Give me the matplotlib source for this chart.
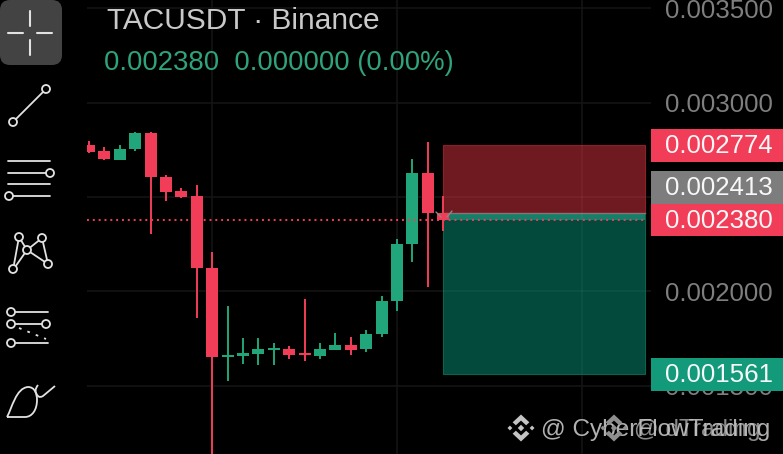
import matplotlib
matplotlib.use("Agg")
import matplotlib.pyplot as plt
from matplotlib.patches import Rectangle, FancyBboxPatch, Polygon, Circle, PathPatch
from matplotlib.path import Path

W, H = 783, 454
BG = "#000000"
RED = "#f23d58"
GREEN = "#20a67a"

# Candle data, in millionths of a USDT
opens  = [2775, 2742, 2698, 2753, 2841, 2608, 2530, 2505, 2126, 1653, 1658, 1670, 1690,
          1697, 1674, 1659, 1691, 1718, 1695, 1774, 1948, 2249, 2627, 2417]
closes = [2740, 2700, 2754, 2841, 2604, 2528, 2500, 2124, 1651, 1663, 1674, 1695, 1702,
          1663, 1663, 1697, 1718, 1691, 1776, 1949, 2251, 2627, 2417, 2378]
highs  = [2798, 2763, 2775, 2843, 2843, 2617, 2549, 2564, 2210, 1923, 1755, 1752, 1728,
          1711, 1960, 1725, 1778, 1757, 1796, 1974, 2279, 2700, 2790, 2504]
lows   = [2731, 2694, 2694, 2742, 2304, 2479, 2493, 1859, 1120, 1524, 1615, 1612, 1612,
          1642, 1631, 1640, 1690, 1662, 1677, 1760, 1896, 2156, 2025, 2318]
SCALE = 1e-6

last_price = 0.002380
stop_price = 0.002774
entry_price = 0.002413
target_price = 0.001561
position_start = 23
position_end = 36.1
grid_prices = [0.0015, 0.0020, 0.0025, 0.0030, 0.0035]
grid_times = [8, 20, 32]
title = "TACUSDT · Binance"
ohlc_line = "0.002380  0.000000 (0.00%)"
label_font = ["Liberation Sans", "DejaVu Sans"]

fig = plt.figure(figsize=(W / 100, H / 100), dpi=100, facecolor=BG)

# Main price chart
L, R = 87, 651
ax = fig.add_axes([L / W, 0, (R - L) / W, 1], facecolor=BG)
STEP = 15.4
ax.set_xlim((L - 89) / STEP, (R - 89) / STEP)
ax.set_ylim(0.0025 - 257 * 5.2966e-6, 0.0025 + 197 * 5.2966e-6)
for s in ax.spines.values():
    s.set_visible(False)
ax.set_yticks(grid_prices)
ax.set_yticklabels([f"{p:.6f}" for p in grid_prices], family=label_font, fontsize=18.6, color="#7f7f7f")
ax.set_xticks(grid_times)
ax.tick_params(axis="both", length=0, pad=10)
ax.tick_params(axis="x", labelbottom=False)
ax.yaxis.tick_right()
ax.grid(True, color="#151515", lw=1.1)
ax.set_axisbelow(True)

# Position tool
ax.add_patch(Rectangle((position_start, entry_price), position_end - position_start, stop_price - entry_price,
                       fc="#6f1a20", ec="#8a2029", lw=0.8, zorder=2))
ax.add_patch(Rectangle((position_start, target_price), position_end - position_start, entry_price - target_price,
                       fc="#03493c", ec="#0a6350", lw=0.8, zorder=2))
ax.add_patch(Rectangle((position_start, last_price), position_end - position_start, entry_price - last_price,
                       fc="#15806a", ec="none", zorder=2.1))
ax.plot([position_start, position_end], [entry_price, entry_price], color="#8f6f72", lw=1.0, zorder=2.2)
# The grid shows faintly through the position tool
ax.vlines([t for t in grid_times if t > position_start], target_price, stop_price, color="white", alpha=0.05, lw=1.1, zorder=2.3)
ax.hlines([p for p in grid_prices if target_price < p < stop_price], position_start, position_end, color="white", alpha=0.05, lw=1.1, zorder=2.3)

# Candles
for i, (o, c, h, l) in enumerate(zip(opens, closes, highs, lows)):
    col = GREEN if c >= o else RED
    ax.vlines(i, l * SCALE, h * SCALE, color=col, lw=1.4, zorder=3)
    ax.bar(i, abs(c - o) * SCALE, bottom=min(o, c) * SCALE, width=0.78, color=col, lw=0, zorder=3.1)

ax.plot([ax.get_xlim()[0], position_end], [last_price, last_price], color=RED, lw=1.4, ls=(0, (1, 2)), zorder=4)

# Overlay in pixel coordinates: toolbar, header, price labels, watermark
ov = fig.add_axes([0, 0, 1, 1], facecolor="none", zorder=5)
ov.set_xlim(0, W)
ov.set_ylim(H, 0)
ov.axis("off")

ICON = "#e2e2e2"
LW = 1.3

def line(pts, **kw):
    xs, ys = zip(*pts)
    ov.plot(xs, ys, color=kw.get("color", ICON), lw=kw.get("lw", LW), ls=kw.get("ls", "-"), solid_capstyle="round")

def ring(x, y, r=4):
    ov.add_patch(Circle((x, y), r, fc=BG, ec=ICON, lw=LW, zorder=6))

ov.add_patch(FancyBboxPatch((0, 0), 62, 65, boxstyle="round,pad=0,rounding_size=10", fc="#434343", ec="none"))
line([(30, 11), (30, 26)], lw=1.5)
line([(30, 40), (30, 55)], lw=1.5)
line([(8, 33), (23, 33)], lw=1.5)
line([(37, 33), (52, 33)], lw=1.5)

line([(13, 122), (46, 89)])
ring(46, 89); ring(13, 122)

line([(8, 161), (50, 161)])
line([(8, 173), (50, 173)]); ring(50, 173)
line([(8, 184), (50, 184)])
line([(9, 196), (50, 196)]); ring(9, 196)

for a, b in [((13, 270), (19, 237)), ((19, 237), (27, 250)), ((13, 270), (27, 250)),
             ((27, 250), (48, 264)), ((27, 250), (42, 238)), ((42, 238), (48, 264))]:
    line([a, b])
for p in [(19, 237), (42, 238), (27, 250), (48, 264), (13, 269)]:
    ring(*p)

line([(11, 312), (48, 312)]); ring(11, 312)
line([(11, 324), (46, 324)]); ring(11, 324); ring(46, 324)
line([(11, 343), (48, 343)]); ring(11, 343)
line([(19, 328), (46, 339)], ls=(0, (1.5, 3.5)))

# Brush icon
C4 = Path.CURVE4
brush = Path([(7, 417), (12, 408), (16, 388), (28, 387), (35, 387), (37, 394), (37, 400),
              (37, 410), (32, 417), (25, 417), (7, 417)],
             [Path.MOVETO, C4, C4, C4, C4, C4, C4, C4, C4, C4, Path.LINETO])
ov.add_patch(PathPatch(brush, fc="none", ec=ICON, lw=LW))
C3 = Path.CURVE3
hook = Path([(38, 385), (33, 391), (38, 396), (40, 398), (43, 396), (55, 386)],
            [Path.MOVETO, C3, C3, C3, C3, Path.LINETO])
ov.add_patch(PathPatch(hook, fc="none", ec=ICON, lw=LW))

# Header
ov.text(107, 21, title, family=label_font, fontsize=21.5, color="#c9c9c9", va="center", ha="left")
ov.text(104, 63, ohlc_line, family=label_font, fontsize=19.8, color="#2ea37c", va="center", ha="left")

# Price labels
for y0, y1, col, txt in [(129, 162, RED, "0.002774"),
                         (171, 204, "#7d7d7d", "0.002413"),
                         (204, 236, RED, "0.002380"),
                         (358, 391, "#139a7b", "0.001561")]:
    ov.add_patch(Rectangle((651, y0), 132, y1 - y0, fc=col, ec="none", zorder=7))
    ov.text(719, (y0 + y1) / 2 + 0.5, txt, family=label_font, fontsize=18.6, color="#f8f8f8", ha="center", va="center", zorder=8)

# Small grey markers beside the last candle
line([(436, 212), (441, 217)], color="#8a8a8a", lw=1)
line([(447, 217), (452, 211)], color="#8a8a8a", lw=1)

# Watermark
def binance(x, y, s, col):
    for dy in (-1, 1):
        ov.add_patch(Polygon([(x, y + dy * s), (x - .62 * s, y + dy * .42 * s), (x - .38 * s, y + dy * .2 * s),
                              (x, y + dy * .55 * s), (x + .38 * s, y + dy * .2 * s), (x + .62 * s, y + dy * .42 * s)],
                             fc=col, ec="none", zorder=9))
    for dx, r in [(-.82, .18), (0, .24), (.82, .18)]:
        c = (x + dx * s, y)
        ov.add_patch(Polygon([(c[0], c[1] - r * s), (c[0] + r * s, c[1]), (c[0], c[1] + r * s), (c[0] - r * s, c[1])],
                             fc=col, ec="none", zorder=9))

wm = "#c4c4c4"
binance(521, 428, 13.5, wm)
ov.text(541, 430, "@ CyberFlowTrading", family=label_font, fontsize=17.6, color=wm, alpha=.9, va="center", zorder=9)
binance(614, 428, 13.5, "#8f8f8f")
ov.text(634, 430, "@ dTrading", family=label_font, fontsize=17.6, color=wm, alpha=.7, va="center", zorder=9)

fig.savefig("out.png", dpi=100, facecolor=BG)
